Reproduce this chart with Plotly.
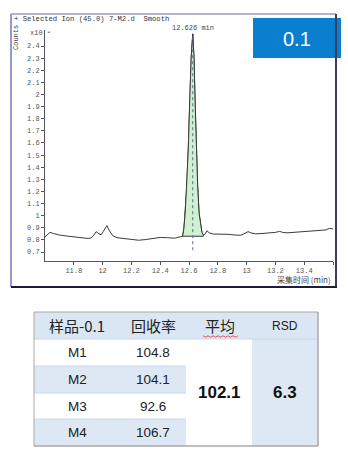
import plotly.graph_objects as go

W, H = 348, 457

# ---------------- data ----------------
time_min = [11.60, 11.62, 11.635, 11.66, 11.70, 11.75, 11.80, 11.85, 11.90, 11.92, 11.94, 11.955,
            11.975, 11.99, 12.005, 12.02, 12.03, 12.045, 12.07, 12.10, 12.15, 12.20, 12.25, 12.30,
            12.35, 12.40, 12.45, 12.50, 12.54, 12.556, 12.565, 12.575, 12.585, 12.595, 12.605,
            12.615, 12.626, 12.635, 12.642, 12.65, 12.66, 12.67, 12.68, 12.69, 12.70, 12.71,
            12.725, 12.74, 12.77, 12.82, 12.87, 12.92, 12.96, 12.99, 13.01, 13.03, 13.06, 13.10,
            13.15, 13.20, 13.23, 13.25, 13.28, 13.32, 13.38, 13.44, 13.50, 13.55, 13.575, 13.59, 13.60]
counts_e4 = [0.825, 0.845, 0.862, 0.852, 0.840, 0.832, 0.828, 0.818, 0.812, 0.815, 0.840, 0.868,
             0.850, 0.842, 0.870, 0.905, 0.918, 0.880, 0.835, 0.818, 0.810, 0.800, 0.797, 0.803,
             0.810, 0.820, 0.818, 0.814, 0.826, 0.830, 0.90, 1.05, 1.25, 1.55, 1.95,
             2.30, 2.50, 2.30, 1.95, 1.60, 1.25, 1.02, 0.92, 0.86, 0.84, 0.845,
             0.875, 0.858, 0.848, 0.850, 0.846, 0.840, 0.838, 0.855, 0.868, 0.858, 0.850, 0.852,
             0.855, 0.862, 0.870, 0.862, 0.858, 0.862, 0.868, 0.872, 0.878, 0.882, 0.895, 0.892, 0.890]
peak_rt = 12.626
peak_start, peak_end = 12.556, 12.70
peak_base = 0.83

x_ticks = [11.8, 12.0, 12.2, 12.4, 12.6, 12.8, 13.0, 13.2, 13.4]
x_ticklabels = ["11.8", "12", "12.2", "12.4", "12.6", "12.8", "13", "13.2", "13.4"]
x_end_tick = [13.6]
y_ticks = [0.7, 0.8, 0.9, 1.0, 1.1, 1.2, 1.3, 1.4, 1.5, 1.6, 1.7, 1.8, 1.9, 2.0, 2.1, 2.2, 2.3, 2.4]
y_ticklabels = ["0.7", "0.8", "0.9", "1", "1.1", "1.2", "1.3", "1.4", "1.5", "1.6", "1.7", "1.8",
                "1.9", "2", "2.1", "2.2", "2.3", "2.4"]

chart_title = "+ Selected Ion (45.0) 7-M2.d  Smooth"
badge_text = "0.1"

table_header = ["样品-0.1", "回收率", "平均", "RSD"]
samples = ["M1", "M2", "M3", "M4"]
recovery = [104.8, 104.1, 92.6, 106.7]
average = 102.1
rsd = 6.3

# ---------------- helpers ----------------
def px(x):
    return x / W

def py(y):
    return 1 - y / H

shapes = []
annotations = []

def rect(x0, y0, x1, y1, fill, line=None, lw=0):
    shapes.append(dict(type="rect", xref="paper", yref="paper", x0=px(x0), x1=px(x1),
                       y0=py(y1), y1=py(y0), fillcolor=fill,
                       line=dict(color=line or fill, width=lw), layer="below"))

def hline(x0, x1, y, color, w=1, layer="above"):
    shapes.append(dict(type="line", xref="paper", yref="paper", x0=px(x0), x1=px(x1),
                       y0=py(y), y1=py(y), line=dict(color=color, width=w), layer=layer))

def vline(x, y0, y1, color, w=1, layer="above"):
    shapes.append(dict(type="line", xref="paper", yref="paper", x0=px(x), x1=px(x),
                       y0=py(y0), y1=py(y1), line=dict(color=color, width=w), layer=layer))

def text(x, y, s, size, color="#222", family="Noto Sans CJK SC", bold=False, xanchor="center", angle=0):
    annotations.append(dict(xref="paper", yref="paper", x=px(x), y=py(y), text=(f"<b>{s}</b>" if bold else s),
                            showarrow=False, xanchor=xanchor, yanchor="middle", textangle=angle,
                            font=dict(size=size, color=color, family=family)))

fig = go.Figure()

# chromatogram trace
fig.add_trace(go.Scatter(x=time_min, y=counts_e4, mode="lines",
                         line=dict(color="#3a3a3a", width=1), hoverinfo="skip", showlegend=False))

# integrated peak fill
pk_x = [t for t in time_min if peak_start <= t <= peak_end]
pk_y = [c for t, c in zip(time_min, counts_e4) if peak_start <= t <= peak_end]
fig.add_trace(go.Scatter(x=pk_x + [peak_end, peak_start], y=pk_y + [peak_base, peak_base],
                         mode="lines", fill="toself", fillcolor="rgba(200,238,200,0.85)",
                         line=dict(color="#3a3a3a", width=1), hoverinfo="skip", showlegend=False))

# retention time dotted line
fig.add_shape(type="line", xref="x", yref="y", x0=peak_rt, x1=peak_rt, y0=0.715, y1=2.49,
              line=dict(color="#5a6a9a", width=1, dash="dot"))

mono = "Liberation Mono"
fig.add_annotation(x=peak_rt, y=2.5, xref="x", yref="y", text=f"{peak_rt} min", showarrow=False,
                   yanchor="bottom", yshift=0, font=dict(size=7, color="#444", family=mono))

# ---------------- frame around chromatogram ----------------
hline(11, 336, 14, "#b4b4c8", 2)
vline(11, 14, 287, "#9898cc", 2)
vline(336, 14, 287, "#3c3c5c", 2)
hline(11, 337, 287, "#1c1c3c", 2)

text(12, 19, chart_title, 7.2, color="#333", family=mono, xanchor="left")
text(16, 38, "Counts", 7, color="#444", family=mono, angle=-90)
text(28, 33, "x10 ⁴", 7, color="#555", family=mono, xanchor="left")
text(333, 279, "采集时间 (min)", 8, color="#444", family="Noto Sans CJK SC", xanchor="right")

# badge
rect(253, 18, 341, 58, "#0a7fcf")
text(297, 39, badge_text, 20, color="white", family="Liberation Sans")

# ---------------- table ----------------
cx = [34, 115, 186, 252, 318]
ry = [312, 339, 366, 393, 419, 446]
hdr_bg = "#dae6f3"
band_bg = "#dde8f4"
rect(cx[0], ry[0], cx[4], ry[1], hdr_bg)
for i in range(4):
    bg = band_bg if i % 2 == 1 else "white"
    rect(cx[0], ry[i + 1], cx[2], ry[i + 2], bg)
rect(cx[2], ry[1], cx[3], ry[5], "white")
rect(cx[3], ry[1], cx[4], ry[5], band_bg)
for i in range(2, 5):
    hline(cx[0], cx[2], ry[i], "#c9d8ea", 1)
hline(cx[0], cx[4], ry[1], "#c9d8ea", 1)
hline(cx[0], cx[4], ry[0], "#a8a8a8", 1)
hline(cx[0], cx[4], ry[5], "#a8a8a8", 1.5)
vline(cx[0], ry[0], ry[5], "#a8a8a8", 1)
vline(cx[4], ry[0], ry[5], "#a8a8a8", 1.5)

hy = (ry[0] + ry[1]) / 2
text(77, hy, table_header[0], 15, color="#222")
text(153, hy, table_header[1], 15, color="#222")
text(220, hy, table_header[2], 15, color="#222")
text(285, hy, table_header[3], 12, color="#222", family="Liberation Sans")
zz_x = [203 + 2.5 * k for k in range(15)]
path = "M " + " L ".join(f"{px(x):.5f},{py(336 + (1.2 if k % 2 else -0.2)):.5f}" for k, x in enumerate(zz_x))
shapes.append(dict(type="path", xref="paper", yref="paper", path=path,
                   line=dict(color="#e03030", width=0.8)))

for i, (s, r) in enumerate(zip(samples, recovery)):
    yy = (ry[i + 1] + ry[i + 2]) / 2
    text(77, yy, s, 13.5, color="#222", family="Liberation Sans")
    text(153, yy, f"{r:.1f}", 13.5, color="#222", family="Liberation Sans")
mid = (ry[1] + ry[5]) / 2
text(219, mid, f"{average:.1f}", 17, color="#111", family="Liberation Sans", bold=True)
text(285, mid, f"{rsd:.1f}", 17, color="#111", family="Liberation Sans", bold=True)

axis_font = dict(size=7, color="#555", family=mono)
fig.update_layout(
    width=W, height=H, autosize=False,
    margin=dict(l=0, r=0, t=0, b=0, pad=0),
    paper_bgcolor="white", plot_bgcolor="white",
    shapes=list(fig.layout.shapes) + shapes,
    annotations=list(fig.layout.annotations) + annotations,
    xaxis=dict(domain=[45 / W, 333 / W], range=[11.6, 13.6], showgrid=False, zeroline=False,
               showline=True, linecolor="#555", linewidth=1, ticks="outside", ticklen=3,
               tickcolor="#555", tickvals=x_ticks, ticktext=x_ticklabels, tickfont=axis_font,
               minor=dict(tickvals=x_end_tick, ticks="outside", ticklen=3, tickcolor="#555"),
               fixedrange=True),
    yaxis=dict(domain=[1 - 261 / H, 1 - 30 / H], range=[0.6257, 2.532], showgrid=False,
               zeroline=False, showline=True, linecolor="#555", linewidth=1, ticks="outside",
               ticklen=3, tickcolor="#555", tickvals=y_ticks, ticktext=y_ticklabels,
               tickfont=axis_font, fixedrange=True),
    showlegend=False,
)

fig.write_html("out.html")
